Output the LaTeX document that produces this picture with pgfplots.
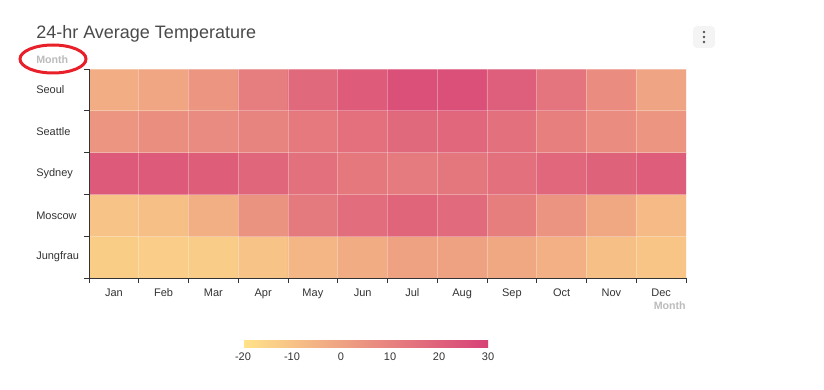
\documentclass[border=0pt]{standalone}
\usepackage{fontspec}
\setmainfont{Liberation Sans}
\usepackage{pgfplots}
\pgfplotsset{compat=1.18}
\definecolor{txt}{HTML}{333333}
\definecolor{ttl}{HTML}{4A4A4A}
\definecolor{lgr}{HTML}{BBBBBB}
\definecolor{btn}{HTML}{F4F4F4}
\definecolor{dot}{HTML}{555555}
\definecolor{ring}{HTML}{E8202A}
\pgfplotstableread{
x y t
0 0 -13.2
1 0 -13.7
2 0 -13.1
3 0 -10.3
4 0 -6.1
5 0 -3.2
6 0 0.0
7 0 -0.1
8 0 -1.8
9 0 -4.5
10 0 -9.0
11 0 -10.9
0 1 -10.3
1 1 -9.1
2 1 -4.1
3 1 4.4
4 1 12.2
5 1 16.3
6 1 18.5
7 1 16.7
8 1 10.9
9 1 4.2
10 1 -2.0
11 1 -7.5
0 2 22.1
1 2 22.0
2 2 20.9
3 2 18.3
4 2 15.2
5 2 12.8
6 2 11.8
7 2 13.0
8 2 15.2
9 2 17.6
10 2 19.4
11 2 21.2
0 3 3.8
1 3 5.6
2 3 7.0
3 3 9.1
4 3 12.4
5 3 15.3
6 3 17.5
7 3 17.8
8 3 15.0
9 3 10.6
10 3 6.4
11 3 3.7
0 4 -3.5
1 4 -1.1
2 4 4.0
3 4 11.3
4 4 17.5
5 4 21.5
6 4 24.9
7 4 25.2
8 4 20.4
9 4 13.9
10 4 6.6
11 4 -0.6
}\temps
\begin{document}
\begin{tikzpicture}
\useasboundingbox (0,0) rectangle (618pt,291.75pt);
\node[anchor=west, font=\fontsize{13.5}{16}\selectfont, text=ttl, inner sep=0] at (27pt,266.5pt) {24-hr Average Temperature};
\node[anchor=west, font=\fontsize{8}{10}\selectfont\bfseries, text=lgr, inner sep=0] at (27pt,247pt) {Month};
\draw[ring, line width=2.25pt] (39.75pt,247.5pt) ellipse [x radius=24.75pt, y radius=10.5pt];
\fill[btn, rounded corners=3pt] (519.75pt,255.75pt) rectangle (536.25pt,272.25pt);
\foreach \yy in {267.75pt,264pt,260.25pt} \fill[dot] (528pt,\yy) circle (1.1pt);
\node[anchor=east, font=\fontsize{8}{10}\selectfont\bfseries, text=lgr, inner sep=0] at (514.5pt,62.5pt) {Month};
\begin{axis}[
  at={(66.75pt,83.25pt)}, anchor=south west,
  scale only axis, width=447.75pt, height=156.75pt,
  xmin=-0.5, xmax=11.5, ymin=-0.5, ymax=4.5,
  enlargelimits=false,
  axis lines*=left, axis line style={-, txt, line width=0.6pt},
  colormap={temp}{rgb255=(255,227,138) rgb255=(215,65,119)},
  point meta min=-20, point meta max=30,
  xtick={0,...,11},
  xticklabels={Jan,Feb,Mar,Apr,May,Jun,Jul,Aug,Sep,Oct,Nov,Dec},
  ytick={0,...,4},
  yticklabels={Jungfrau,Moscow,Sydney,Seattle,Seoul},
  minor xtick={-0.5,0.5,...,11.5},
  minor ytick={-0.5,0.5,...,4.5},
  major tick length=0pt, minor tick length=3.75pt, tick align=outside,
  minor tick style={txt, line width=0.6pt},
  grid=minor,
  minor grid style={white, opacity=0.3, line width=0.75pt},
  axis on top,
  tick label style={font=\fontsize{8.25}{10}\selectfont, text=txt},
  xticklabel style={yshift=-4pt, text height=6pt, text depth=1.5pt},
  yticklabel style={anchor=west, inner sep=0pt, xshift=-39.75pt},
  colorbar horizontal,
  colorbar style={
    at={(0.258,-0.3014)}, anchor=north west,
    width=183.75pt, height=5.25pt,
    xtick={-20,-10,0,10,20,30},
    xticklabels={-20,-10,0,10,20,30},
    major tick length=0pt,
    axis line style={draw=none},
    xticklabel style={font=\fontsize{8.25}{10}\selectfont, text=txt, text height=6pt, text depth=1.5pt},
  },
]
\addplot[matrix plot*, mesh/cols=12, point meta=explicit] table[x=x, y=y, meta=t] {\temps};
\end{axis}
\end{tikzpicture}
\end{document}
